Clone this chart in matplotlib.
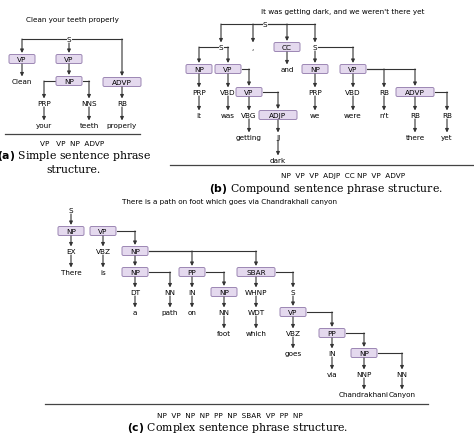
import matplotlib.pyplot as plt

# ── Panel (a): simple sentence ──────────────────────────────
a_labels = ["S", "VP", "VP", "ADVP", "Clean", "NP", "PRP", "NNS", "RB", "your", "teeth", "properly"]
a_x = [69, 22, 69, 122, 22, 69, 44, 89, 122, 44, 89, 122]
a_y = [40, 60, 60, 83, 82, 82, 104, 104, 104, 126, 126, 126]
a_box = ["VP", "NP", "ADVP"]
a_edges = [(0, 1), (0, 2), (0, 3), (1, 4), (2, 5), (5, 6), (5, 7), (3, 8), (6, 9), (7, 10), (8, 11)]

# ── Panel (b): compound sentence ────────────────────────────
b_labels = ["S", "S", ",", "CC", "S", "NP", "VP", "and", "NP", "VP",
            "PRP", "VBD", "VP", "PRP", "VBD", "RB", "ADVP",
            "It", "was", "VBG", "ADJP", "we", "were", "n't", "RB", "RB",
            "getting", "JJ", "there", "yet", "dark"]
b_x = [265, 221, 253, 287, 315, 199, 228, 287, 315, 353,
       199, 228, 249, 315, 353, 384, 415,
       199, 228, 249, 278, 315, 353, 384, 415, 447,
       249, 278, 415, 447, 278]
b_y = [25, 48, 48, 48, 48, 70, 70, 70, 70, 70,
       93, 93, 93, 93, 93, 93, 93,
       116, 116, 116, 116, 116, 116, 116, 116, 116,
       138, 138, 138, 138, 161]
b_box = ["NP", "VP", "CC", "ADJP", "ADVP"]
b_edges = [(0, 1), (0, 2), (0, 3), (0, 4), (1, 5), (1, 6), (3, 7), (4, 8), (4, 9),
           (5, 10), (6, 11), (6, 12), (8, 13), (9, 14), (9, 15), (9, 16),
           (10, 17), (11, 18), (12, 19), (12, 20), (13, 21), (14, 22), (15, 23),
           (16, 24), (16, 25), (19, 26), (20, 27), (24, 28), (25, 29), (27, 30)]

# ── Panel (c): complex sentence ─────────────────────────────
c_labels = ["S", "NP", "VP", "EX", "VBZ", "NP", "There", "is", "NP", "PP", "SBAR",
            "DT", "NN", "IN", "NP", "WHNP", "S", "a", "path", "on", "NN", "WDT", "VP",
            "foot", "which", "VBZ", "PP", "goes", "IN", "NP", "via", "NNP", "NN",
            "Chandrakhani", "Canyon"]
c_x = [71, 71, 103, 71, 103, 135, 71, 103, 135, 192, 256,
       135, 170, 192, 224, 256, 293, 135, 170, 192, 224, 256, 293,
       224, 256, 293, 332, 293, 332, 364, 332, 364, 402, 364, 402]
c_y = [211, 232, 232, 252, 252, 252, 273, 273, 273, 273, 273,
       293, 293, 293, 293, 293, 293, 313, 313, 313, 313, 313, 313,
       334, 334, 334, 334, 354, 354, 354, 375, 375, 375, 395, 395]
c_box = ["NP", "VP", "PP", "SBAR"]
c_edges = [(0, 1), (1, 3), (2, 4), (2, 5), (3, 6), (4, 7), (5, 8), (5, 9), (5, 10),
           (8, 11), (8, 12), (9, 13), (9, 14), (10, 15), (10, 16), (11, 17), (12, 18),
           (13, 19), (14, 20), (15, 21), (16, 22), (20, 23), (21, 24), (22, 25), (22, 26),
           (25, 27), (26, 28), (26, 29), (28, 30), (29, 31), (29, 32), (31, 33), (32, 34)]

BOX_FILL = "#e4d9ee"
BOX_EDGE = "#9c86b3"
LINE = "#333333"
FS = 5.2


def half_w(lbl, boxed):
    return (len(lbl) * 3.0 + 7) if boxed else len(lbl) * 2.4


def draw_tree(ax, labels, xs, ys, boxed_set, edges):
    boxed = [lbl in boxed_set and i > 0 for i, lbl in enumerate(labels)]
    for p, c in edges:
        px, py, cx, cy = xs[p], ys[p], xs[c], ys[c]
        if px == cx:
            start = (px, py + (5 if boxed[p] else 4))
        else:
            side = 1 if cx > px else -1
            sx = px + side * (half_w(labels[p], boxed[p]) + 1)
            ax.plot([sx, cx], [py, py], color=LINE, lw=0.8)
            start = (cx, py)
        ax.annotate("", xy=(cx, cy - (6 if boxed[c] else 4.5)), xytext=start,
                    arrowprops=dict(arrowstyle="-|>", color=LINE, lw=0.8,
                                    mutation_scale=5, shrinkA=0, shrinkB=0))
    for i, lbl in enumerate(labels):
        if boxed[i]:
            hw = half_w(lbl, True)
            ax.add_patch(plt.matplotlib.patches.FancyBboxPatch(
                (xs[i] - hw, ys[i] - 4.5), 2 * hw, 9,
                boxstyle="round,pad=0,rounding_size=1.5",
                fc=BOX_FILL, ec=BOX_EDGE, lw=0.7, zorder=2))
            ax.text(xs[i], ys[i], lbl, ha="center", va="center", fontsize=FS, zorder=3)
        else:
            ax.text(xs[i], ys[i], lbl, ha="center", va="center", fontsize=FS)


fig = plt.figure(figsize=(4.74, 4.35), dpi=100)
ax = fig.add_axes([0, 0, 1, 1])
ax.set_xlim(0, 474)
ax.set_ylim(435, 0)
ax.axis("off")

draw_tree(ax, a_labels, a_x, a_y, a_box, a_edges)
draw_tree(ax, b_labels, b_x, b_y, b_box, b_edges)
draw_tree(ax, c_labels, c_x, c_y, c_box, c_edges)

# titles
ax.text(72, 20, "Clean your teeth properly", ha="center", va="center", fontsize=FS)
ax.text(343, 12, "It was getting dark, and we weren't there yet", ha="center", va="center", fontsize=FS)
ax.text(230, 202, "There is a path on foot which goes via Chandrakhali canyon", ha="center", va="center", fontsize=FS)

# separators and label sequences
ax.plot([5, 140], [135, 135], color="#444444", lw=0.9)
ax.plot([170, 474], [166, 166], color="#444444", lw=0.9)
ax.plot([45, 428], [405, 405], color="#444444", lw=0.9)
ax.text(72, 144, "VP   VP  NP  ADVP", ha="center", va="center", fontsize=FS)
ax.text(343, 176, "NP  VP  VP  ADJP  CC NP  VP  ADVP", ha="center", va="center", fontsize=FS)
ax.text(230, 416, "NP  VP  NP  NP  PP  NP  SBAR  VP  PP  NP", ha="center", va="center", fontsize=FS)

# captions
cap = dict(ha="center", va="center", fontsize=7.8, family="DejaVu Serif")
ax.text(74, 156, r"$\bf{(a)}$ Simple sentence phrase", **cap)
ax.text(74, 170, "structure.", **cap)
ax.text(326, 189, r"$\bf{(b)}$ Compound sentence phrase structure.", **cap)
ax.text(238, 428, r"$\bf{(c)}$ Complex sentence phrase structure.", **cap)

fig.savefig("out.png", dpi=100)
